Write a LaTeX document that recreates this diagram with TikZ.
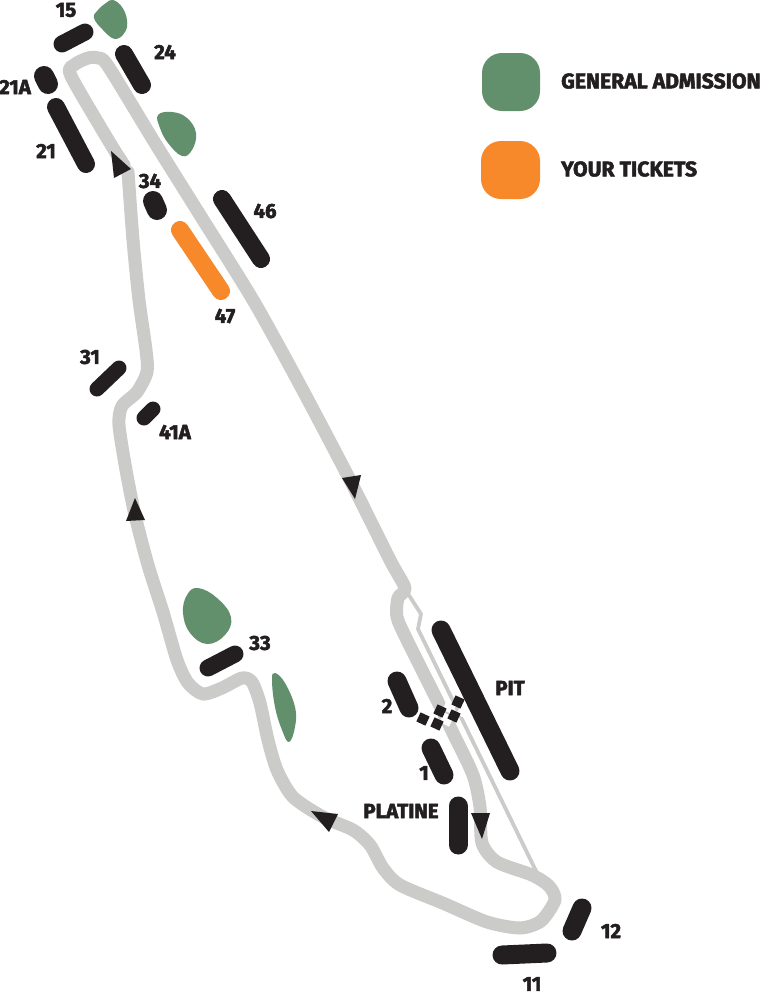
\documentclass[tikz,border=0pt]{standalone}
\usepackage{fontspec}
\setmainfont{Fira Sans}[BoldFeatures={FakeBold=2.4}]
\usetikzlibrary{calc}
\definecolor{trk}{HTML}{CBCBC9}
\definecolor{blk}{HTML}{231F20}
\definecolor{grn}{HTML}{62906C}
\definecolor{org}{HTML}{F7892B}
\tikzset{
  track/.style={draw=trk,line width=13pt,line cap=round,line join=round},
  pitlane/.style={draw=trk,line width=3.8pt,line join=round},
  stand/.style={line cap=round,draw=blk,line width=#1},
  stand/.default=17pt,
  blob/.style={fill=grn},
  dirtip/.style={fill=blk},
  lab/.style={font=\fontsize{20.5}{20.5}\selectfont\bfseries,text=blk,inner sep=0pt},
  leg/.style={font=\fontsize{21.2}{21.2}\selectfont\bfseries,text=blk,inner sep=0pt,anchor=west},
  chk/.style={fill=blk,rotate=-25,minimum size=10pt,inner sep=0pt},
  chkw/.style={fill=white,rotate=-25,minimum size=10.6pt,inner sep=0pt},
}
\begin{document}
\begin{tikzpicture}[x=1pt,y=-1pt]
\useasboundingbox (0,0) rectangle (760,994);
\clip (0,0) rectangle (760,994);
% pit lane
\draw[pitlane] (403,586) -- (421,614) -- (418,629) -- (537,873);
% track
\draw[track] plot[smooth,tension=0.45] coordinates {
 (128,172) (133,240) (139,300) (146,350) (147,372) (137,392) (122,406) (119,425) (126,470) (135,515)
 (148,565) (163,612) (177,660) (188,683) (203,694) (222,688) (242,678) (252,682) (260,703) (268,740) (277,770)
 (293,797) (323,817) (353,830) (370,845) (383,868) (400,885) (445,904) (487,922) (520,928) (541,921) (555,900) (549,886)
 (532,875) (497,862) (482,843) (480,807) (473,775) (453,733) (437,700) (407,640) (397,617) (398,598) (405,588)
 (390,560) (350,480) (300,385) (253,300) (200,215) (155,143) (108,66) (98,58) (88,58) (74,65) (71,76) (110,143) (124,165)};
% checker
\node[chkw] at (432.5,714.6) {};
\node[chkw] at (449.5,707) {};
\node[chkw] at (446.5,719.6) {};
\node[chkw] at (463.5,711.6) {};
\node[chk] at (423,719) {};
\node[chk] at (437,724) {};
\node[chk] at (440,711) {};
\node[chk] at (454,716) {};
\node[chk] at (458,702) {};
% stands
\coordinate (s15a) at (62,44);\coordinate (s15b) at (85,32);
\coordinate (s24a) at (124,54);\coordinate (s24b) at (142,85);
\coordinate (s21Aa) at (44,76);\coordinate (s21Ab) at (48,84);
\coordinate (s21a) at (56,107);\coordinate (s21b) at (86,164);
\coordinate (s34a) at (153,201);\coordinate (s34b) at (157,210);
\coordinate (s47a) at (180,230);\coordinate (s47b) at (221,291);
\coordinate (s46a) at (222,199);\coordinate (s46b) at (261,259);
\coordinate (s31a) at (97,389);\coordinate (s31b) at (119,368);
\coordinate (s41a) at (144,418);\coordinate (s41b) at (153,409);
\coordinate (s33a) at (208,668);\coordinate (s33b) at (235,654);
\coordinate (sPa) at (441,630);\coordinate (sPb) at (510,771);
\coordinate (s2a) at (397,681);\coordinate (s2b) at (409,708);
\coordinate (s1a) at (431,748);\coordinate (s1b) at (444,775);
\coordinate (sLa) at (458,806);\coordinate (sLb) at (458,845);
\coordinate (s12a) at (582,908);\coordinate (s12b) at (572,931);
\coordinate (s11a) at (502,955);\coordinate (s11b) at (547,953);
\draw[stand] (s15a) -- (s15b);
\draw[stand=18pt] (s24a) -- (s24b);
\draw[stand=20pt] (s21Aa) -- (s21Ab);
\draw[stand=18pt] (s21a) -- (s21b);
\draw[stand=20pt] (s34a) -- (s34b);
\draw[stand=18pt,draw=org] (s47a) -- (s47b);
\draw[stand=18pt] (s46a) -- (s46b);
\draw[stand=15pt] (s31a) -- (s31b);
\draw[stand=15pt] (s41a) -- (s41b);
\draw[stand=17pt] (s33a) -- (s33b);
\draw[stand=19pt] (sPa) -- (sPb);
\draw[stand=19pt] (s2a) -- (s2b);
\draw[stand=19pt] (s1a) -- (s1b);
\draw[stand=19pt] (sLa) -- (sLb);
\draw[stand=19pt] (s12a) -- (s12b);
\draw[stand=19pt] (s11a) -- (s11b);
% direction arrows
\fill[dirtip] (111,151) -- (131,169) -- (114,178) -- cycle;
\fill[dirtip] (342,478) -- (361,475) -- (355,499) -- cycle;
\fill[dirtip] (135,498) -- (126,521) -- (145,520) -- cycle;
\fill[dirtip] (471,813) -- (490,813) -- (482,839) -- cycle;
\fill[dirtip] (311,811) -- (338,814) -- (329,832) -- cycle;
% green blobs
\fill[blob] plot[smooth cycle,tension=0.7] coordinates {(113,0) (122,7) (127,20) (125,32) (115,39) (103,30) (94,18) (98,10) (106,3)};
\fill[blob] plot[smooth cycle,tension=0.7] coordinates {(158,115) (172,112) (187,118) (196,133) (192,150) (182,156) (168,143) (160,128)};
\fill[blob] plot[smooth cycle,tension=0.7] coordinates {(198,588) (217,598) (231,617) (225,635) (207,644) (190,633) (183,613) (187,595)};
\fill[blob] plot[smooth cycle,tension=0.7] coordinates {(275,673) (285,683) (295,707) (295,727) (289,742) (282,730) (275,707) (272,680)};
% legend
\fill[grn,rounded corners=20pt] (482,53) rectangle (540,111);
\fill[org,rounded corners=20pt] (481,141) rectangle (540,199);
\node[leg] (lg) at (561,81) {GENERAL ADMISSION};
\node[leg] (ly) at (561,169) {YOUR TICKETS};
% labels
\node[lab] (n15) at (66,10) {15};
\node[lab] (n24) at (165,52) {24};
\node[lab] (n21A) at (15,87) {21A};
\node[lab] (n21) at (46,151) {21};
\node[lab] (n34) at (150,181) {34};
\node[lab] (n46) at (265,211) {46};
\node[lab] (n47) at (225,316) {47};
\node[lab] (n31) at (90,357) {31};
\node[lab] (n41A) at (175,432) {41A};
\node[lab] (n33) at (260,643) {33};
\node[lab] (nP) at (510,688) {PIT};
\node[lab] (n2) at (387,706) {2};
\node[lab] (n1) at (424,773) {1};
\node[lab] (nL) at (401,811) {PLATINE};
\node[lab] (n12) at (611,931) {12};
\node[lab] (n11) at (532,984) {11};
\end{tikzpicture}
\end{document}
